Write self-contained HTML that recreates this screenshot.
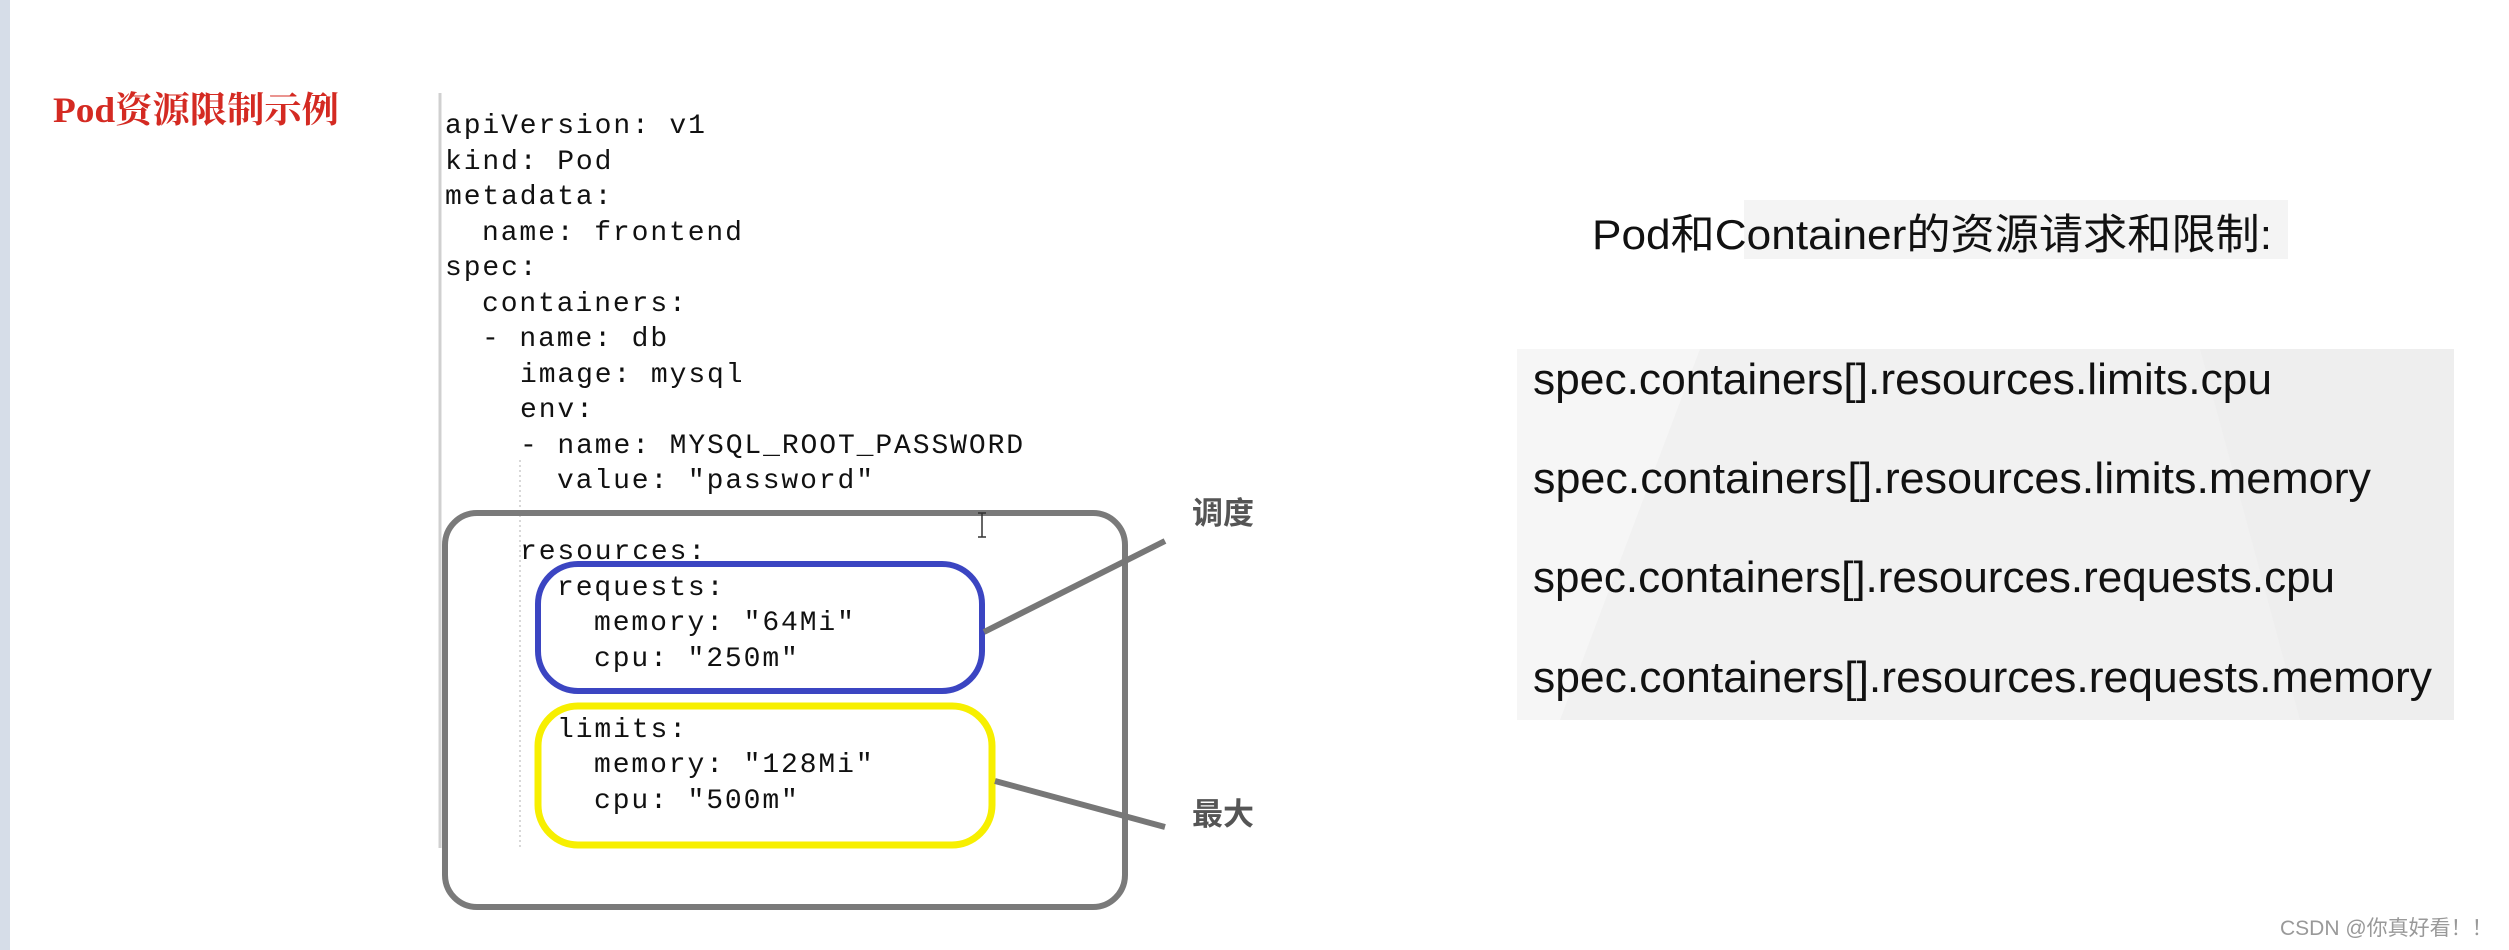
<!DOCTYPE html>
<html><head><meta charset="utf-8"><style>
html,body{margin:0;padding:0;background:#fff;}
svg{display:block;}
.m{font-family:"Liberation Mono",monospace;font-size:28px;letter-spacing:1.9px;fill:#111;}
.s{font-family:"Liberation Sans","Noto Sans CJK SC",sans-serif;fill:#111;}
</style></head><body>
<svg width="2509" height="950" viewBox="0 0 2509 950" xmlns="http://www.w3.org/2000/svg">
<rect x="0" y="0" width="10" height="950" fill="#d6dde8"/>
<text x="53" y="122" font-family="'Liberation Serif','Noto Serif CJK SC',serif" font-weight="bold" font-size="36" fill="#d42a22" textLength="286" lengthAdjust="spacingAndGlyphs">Pod资源限制示例</text>

<line x1="440" y1="93" x2="440" y2="848" stroke="#d0d0d0" stroke-width="3"/>
<line x1="520" y1="460" x2="520" y2="848" stroke="#ccc" stroke-width="1.5" stroke-dasharray="2,3"/>

<g class="m">
<text x="445" y="133">apiVersion: v1</text>
<text x="445" y="169">kind: Pod</text>
<text x="445" y="204">metadata:</text>
<text x="482" y="240">name: frontend</text>
<text x="445" y="275">spec:</text>
<text x="482" y="311">containers:</text>
<text x="482" y="346">- name: db</text>
<text x="520" y="382">image: mysql</text>
<text x="520" y="417">env:</text>
<text x="520" y="453">- name: MYSQL_ROOT_PASSWORD</text>
<text x="557" y="488">value: "password"</text>
<text x="520" y="559">resources:</text>
<text x="557" y="595">requests:</text>
<text x="594" y="630">memory: "64Mi"</text>
<text x="594" y="666">cpu: "250m"</text>
<text x="557" y="737">limits:</text>
<text x="594" y="772">memory: "128Mi"</text>
<text x="594" y="808">cpu: "500m"</text>
</g>

<rect x="445" y="513" width="680" height="394" rx="32" fill="none" stroke="#7a7a7a" stroke-width="6"/>
<rect x="538" y="564" width="444" height="127" rx="40" fill="none" stroke="#3b45c2" stroke-width="6"/>
<rect x="538" y="706" width="454" height="139" rx="40" fill="none" stroke="#f7ef00" stroke-width="7"/>
<line x1="984" y1="632" x2="1165" y2="541" stroke="#777" stroke-width="6"/>
<line x1="995" y1="781" x2="1165" y2="827" stroke="#777" stroke-width="6"/>
<path d="M978 513h8M982 513v24M978 537h8" stroke="#333" stroke-width="1.5" fill="none"/>
<text x="1192" y="524" font-family="'Noto Sans CJK SC',sans-serif" font-weight="bold" font-size="31" fill="#555">调度</text>
<text x="1192" y="825" font-family="'Noto Sans CJK SC',sans-serif" font-weight="bold" font-size="31" fill="#555">最大</text>

<rect x="1744" y="200" width="544" height="59" fill="#f4f4f4"/>
<text class="s" x="1592" y="249" font-size="42" textLength="680" lengthAdjust="spacingAndGlyphs">Pod和Container的资源请求和限制:</text>

<rect x="1517" y="349" width="937" height="371" fill="#f1f1f1"/>
<polygon points="1517,349 1700,349 1560,720 1517,720" fill="#f6f6f6"/>
<polygon points="2200,349 2454,349 2454,720 2300,720" fill="#ececec" opacity="0.6"/>
<g class="s" font-size="44">
<text x="1533" y="394" textLength="739" lengthAdjust="spacingAndGlyphs">spec.containers[].resources.limits.cpu</text>
<text x="1533" y="493" textLength="838" lengthAdjust="spacingAndGlyphs">spec.containers[].resources.limits.memory</text>
<text x="1533" y="592" textLength="802" lengthAdjust="spacingAndGlyphs">spec.containers[].resources.requests.cpu</text>
<text x="1533" y="692" textLength="899" lengthAdjust="spacingAndGlyphs">spec.containers[].resources.requests.memory</text>
</g>
<text x="2280" y="935" font-family="'Liberation Sans','Noto Sans CJK SC',sans-serif" font-size="21" fill="#999">CSDN @你真好看！！</text>
</svg>
</body></html>
